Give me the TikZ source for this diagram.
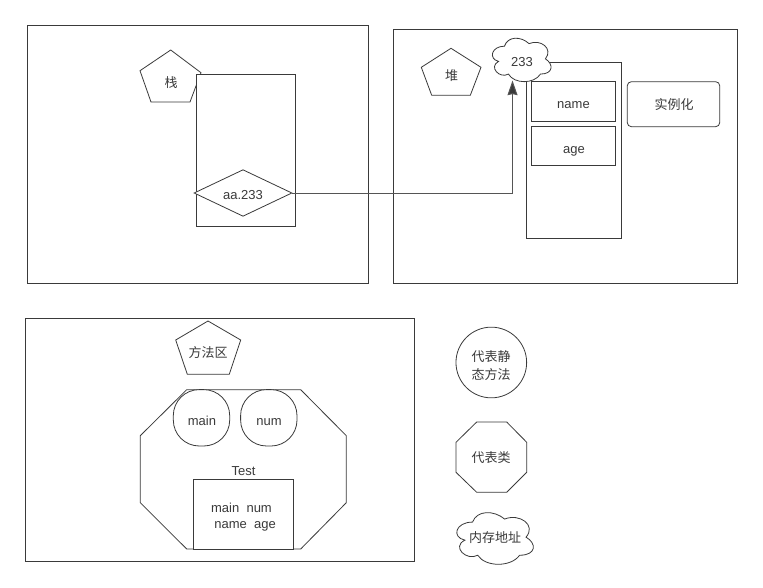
\documentclass[tikz,border=0pt]{standalone}
\usepackage{fontspec}
\setmainfont{Liberation Sans}
\newfontfamily\cjk{Noto Sans CJK SC}
\usetikzlibrary{arrows.meta,shapes.geometric}
\definecolor{ink}{HTML}{3a3a3a}
\definecolor{wire}{HTML}{555555}
\newcommand{\cloudshape}[4]{%
  \path[draw=ink,fill=white,line width=0.6pt]
  ({#1+0.25*#3},{#2+0.25*#4})
  .. controls ({#1+0.05*#3},{#2+0.25*#4}) and ({#1},{#2+0.5*#4}) .. ({#1+0.16*#3},{#2+0.55*#4})
  .. controls ({#1},{#2+0.66*#4}) and ({#1+0.18*#3},{#2+0.9*#4}) .. ({#1+0.31*#3},{#2+0.8*#4})
  .. controls ({#1+0.4*#3},{#2+#4}) and ({#1+0.7*#3},{#2+#4}) .. ({#1+0.8*#3},{#2+0.8*#4})
  .. controls ({#1+#3},{#2+0.8*#4}) and ({#1+#3},{#2+0.6*#4}) .. ({#1+0.875*#3},{#2+0.5*#4})
  .. controls ({#1+#3},{#2+0.3*#4}) and ({#1+0.8*#3},{#2+0.1*#4}) .. ({#1+0.625*#3},{#2+0.2*#4})
  .. controls ({#1+0.5*#3},{#2+0.05*#4}) and ({#1+0.3*#3},{#2+0.05*#4}) .. ({#1+0.25*#3},{#2+0.25*#4})
  -- cycle;}
\tikzset{
  outline/.style={draw=ink,fill=white,line width=0.6pt},
  lbl/.style={text=ink,font=\fontsize{9.75}{12}\selectfont,inner sep=0pt,align=center},
  cjklbl/.style={text=ink,font=\fontsize{9.75}{13.5}\selectfont\cjk,inner sep=0pt,align=center},
  connector/.style={draw=wire,line width=0.75pt,-{Stealth[length=11pt,width=7.5pt,inset=0.8pt,fill=ink]}},
}
\begin{document}
\begin{tikzpicture}[x=0.75pt,y=-0.75pt]
\useasboundingbox (0,0) rectangle (763,588);
\fill[white] (0,0) rectangle (763,588);
% regions
\draw[outline] (27,25) rectangle (368,283);
\draw[outline] (393,29) rectangle (737,283);
\draw[outline] (25,318) rectangle (414,561);
% stack
\draw[outline] (170.7,50) -- (201,72.7) -- (190,102) -- (151,102) -- (140,70.7) -- cycle;
\node[cjklbl] (stacklabel) at (171,82.5) {栈};
\draw[outline] (196,74) rectangle (295.7,226);
\node[diamond,outline,minimum width=73.5pt,minimum height=35pt,aspect=2.1,inner sep=0pt] (ref) at (243,193) {};
\node[lbl] (reflabel) at (243,195) {aa.233};
% heap
\draw[outline] (451,48.3) -- (481,67.3) -- (470.3,95.3) -- (431.7,95.3) -- (421.3,67.3) -- cycle;
\node[cjklbl] (heaplabel) at (451.5,76) {堆};
\draw[outline] (526,62) rectangle (621,238);
\node[rectangle,outline,minimum width=63.5pt,minimum height=30pt] (name) at (573.4,101.7) {};
\node[lbl] (namelabel) at (573.5,105.5) {name};
\node[rectangle,outline,minimum width=63.5pt,minimum height=29pt] (age) at (573.4,146) {};
\node[lbl] (agelabel) at (574,151) {age};
\node[rectangle,outline,rounded corners=3pt,minimum width=69.3pt,minimum height=33.7pt] (inst) at (673.5,104.2) {};
\node[cjklbl] (instlabel) at (674,105) {实例化};
\cloudshape{488.1}{33.5}{65.5}{50.7}
\node[lbl] (addr) at (522,62) {233};
\coordinate (addrbottom) at (512.5,80.5);
\draw[connector] (ref.east) -| (addrbottom);
% method area
\draw[outline] (208,321) -- (240.7,340) -- (229.3,374.3) -- (187.3,374.3) -- (175.7,340) -- cycle;
\node[cjklbl] (methodlabel) at (208,353) {方法区};
\draw[outline] (186.7,389.7) -- (300.7,389.7) -- (346.3,435.7) -- (346.3,502.7) -- (300.7,549) -- (186.7,549) -- (140.3,502.7) -- (140.3,435.7) -- cycle;
\node[rectangle,outline,rounded corners=19.5pt,minimum width=42.3pt,minimum height=42.3pt] (mainc) at (201.5,417.8) {};
\node[lbl] (mainlabel) at (202,420.5) {main};
\node[rectangle,outline,rounded corners=19.5pt,minimum width=42.3pt,minimum height=42.3pt] (numc) at (268.8,417.8) {};
\node[lbl] (numlabel) at (269,422) {num};
\node[lbl] (testlabel) at (243.5,471.5) {Test};
\node[rectangle,outline,minimum width=75pt,minimum height=52.5pt] (testbox) at (243.3,514) {};
\node[lbl] (members) at (241.5,517) {main\ \ num\\\ \ name\ \ age};
% legend
\node[circle,outline,minimum size=53pt,inner sep=0pt] (legcircle) at (491.3,362.5) {};
\node[cjklbl,text width=45pt] (legcirclelabel) at (491,366) {代表静\\态方法};
\draw[outline] (476.7,422) -- (506.7,422) -- (526.7,442.3) -- (526.7,472.3) -- (506.7,492.3) -- (476.7,492.3) -- (456,472.3) -- (456,442.3) -- cycle;
\node[cjklbl] (legoctlabel) at (491,458) {代表类};
\cloudshape{451.2}{507}{85.5}{60.3}
\node[cjklbl] (legcloudlabel) at (495,538) {内存地址};
\end{tikzpicture}
\end{document}
